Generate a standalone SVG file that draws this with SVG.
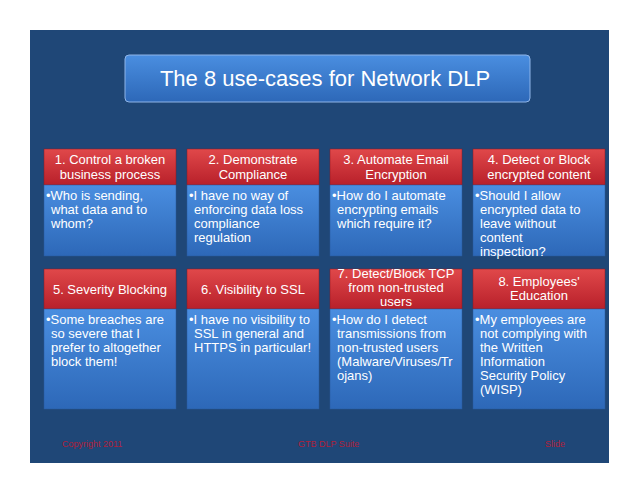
<svg xmlns="http://www.w3.org/2000/svg" width="638" height="493" viewBox="0 0 638 493">
<defs>
<linearGradient id="r" x1="0" y1="0" x2="0" y2="1"><stop offset="0" stop-color="#e0484a"/><stop offset="1" stop-color="#b8202a"/></linearGradient>
<linearGradient id="b" x1="0" y1="0" x2="0" y2="1"><stop offset="0" stop-color="#4a8ee0"/><stop offset="1" stop-color="#2d68b8"/></linearGradient>
<style>
text{font-family:"Liberation Sans",Arial,sans-serif;fill:#fff}
.h{font-size:13px;text-anchor:middle}
.c{font-size:13px}
.f{font-size:9px;fill:#b0203a}
.rh{fill:url(#r);stroke:#8a1a20;stroke-width:0.5}
.bc{fill:url(#b);stroke:#2a5a9a;stroke-width:0.5}
</style>
</defs>
<rect width="638" height="493" fill="#fff"/>
<rect x="30" y="30" width="579" height="433" fill="#1f4777"/>
<g id="title"><rect x="125" y="55" width="405" height="47" rx="4" fill="url(#b)" stroke="#8fb5e8" stroke-width="1"/>
<text x="325" y="86" font-size="22" text-anchor="middle">The 8 use-cases for Network DLP</text></g>
<g id="n1"><rect class="rh" x="44" y="149" width="132" height="36"/><rect class="bc" x="44" y="185" width="132" height="71"/>
<text class="h" x="110" y="164">1.  Control a broken</text><text class="h" x="110" y="179">business process</text>
<text class="c" x="46" y="200">•Who is sending,</text><text class="c" x="51" y="214">what data and to</text><text class="c" x="51" y="228">whom?</text></g>
<g id="n2"><rect class="rh" x="187" y="149" width="132" height="36"/><rect class="bc" x="187" y="185" width="132" height="71"/>
<text class="h" x="253" y="164">2. Demonstrate</text><text class="h" x="253" y="179">Compliance</text>
<text class="c" x="189" y="200">•I have no way of</text><text class="c" x="194" y="214">enforcing data loss</text><text class="c" x="194" y="228">compliance</text><text class="c" x="194" y="242">regulation</text></g>
<g id="n3"><rect class="rh" x="330" y="149" width="132" height="36"/><rect class="bc" x="330" y="185" width="132" height="71"/>
<text class="h" x="396" y="164">3.  Automate Email</text><text class="h" x="396" y="179">Encryption</text>
<text class="c" x="332" y="200">•How do I automate</text><text class="c" x="337" y="214">encrypting emails</text><text class="c" x="337" y="228">which require it?</text></g>
<g id="n4"><rect class="rh" x="473" y="149" width="132" height="36"/><rect class="bc" x="473" y="185" width="132" height="71"/>
<text class="h" x="539" y="164">4. Detect or Block</text><text class="h" x="539" y="179">encrypted content</text>
<text class="c" x="475" y="200">•Should I allow</text><text class="c" x="480" y="214">encrypted data to</text><text class="c" x="480" y="228">leave without</text><text class="c" x="480" y="242">content</text><text class="c" x="480" y="256">inspection?</text></g>
<g id="n5"><rect class="rh" x="44" y="269" width="132" height="40"/><rect class="bc" x="44" y="309" width="132" height="100"/>
<text class="h" x="110" y="294">5.  Severity Blocking</text>
<text class="c" x="46" y="324">•Some breaches are</text><text class="c" x="51" y="338">so severe that I</text><text class="c" x="51" y="352">prefer to altogether</text><text class="c" x="51" y="366">block them!</text></g>
<g id="n6"><rect class="rh" x="187" y="269" width="132" height="40"/><rect class="bc" x="187" y="309" width="132" height="100"/>
<text class="h" x="253" y="294">6.  Visibility to SSL</text>
<text class="c" x="189" y="324">•I have no visibility to</text><text class="c" x="194" y="338">SSL in general and</text><text class="c" x="194" y="352">HTTPS in particular!</text></g>
<g id="n7"><rect class="rh" x="330" y="269" width="132" height="40"/><rect class="bc" x="330" y="309" width="132" height="100"/>
<text class="h" x="396" y="278">7.  Detect/Block TCP</text><text class="h" x="396" y="292">from non-trusted</text><text class="h" x="396" y="306">users</text>
<text class="c" x="332" y="324">•How do I detect</text><text class="c" x="337" y="338">transmissions from</text><text class="c" x="337" y="352">non-trusted users</text><text class="c" x="337" y="366">(Malware/Viruses/Tr</text><text class="c" x="337" y="380">ojans)</text></g>
<g id="n8"><rect class="rh" x="473" y="269" width="132" height="40"/><rect class="bc" x="473" y="309" width="132" height="100"/>
<text class="h" x="539" y="286">8.  Employees'</text><text class="h" x="539" y="300">Education</text>
<text class="c" x="475" y="324">•My employees are</text><text class="c" x="480" y="338">not complying with</text><text class="c" x="480" y="352">the Written</text><text class="c" x="480" y="366">Information</text><text class="c" x="480" y="380">Security Policy</text><text class="c" x="480" y="394">(WISP)</text></g>
<g id="footer"><text class="f" x="62" y="447">Copyright 2011</text><text class="f" x="298" y="447">GTB DLP Suite</text><text class="f" x="545" y="447">Slide</text></g>
<g id="connectors"/>
</svg>
